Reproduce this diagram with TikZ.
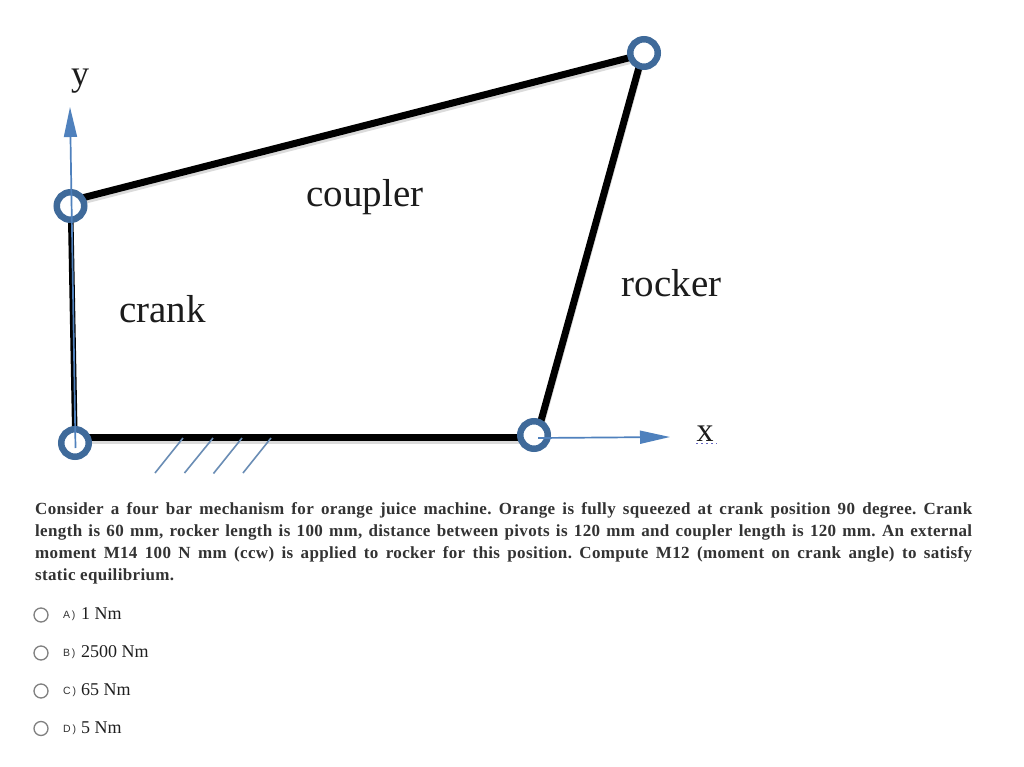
\documentclass[tikz,border=0pt]{standalone}
\usepackage{fontspec}
\setmainfont{Liberation Serif}
\newfontfamily\optlabel{Liberation Sans}
\newfontfamily\questionfont[LetterSpace=2]{Liberation Serif}
\usetikzlibrary{arrows.meta}
\definecolor{ringblue}{HTML}{3F6A9A}
\definecolor{axisblue}{HTML}{4F81BD}
\definecolor{hatchblue}{HTML}{6A8DB5}
\definecolor{labelgray}{HTML}{1C1C1C}
\tikzset{
  x=1pt,y=-1pt,
  pivot/.style={circle,draw=ringblue,line width=6.5pt,fill=white,minimum size=27.5pt,inner sep=0pt},
  linkbar/.style={line width=7pt,black,preaction={draw=black,opacity=.14,line width=7pt,transform canvas={yshift=-3pt}}},
  crankbar/.style={line width=5.5pt,black},
  axisline/.style={axisblue,line width=1.7pt,-{Triangle[length=30pt,width=13pt,fill=axisblue]}},
  hatchline/.style={hatchblue,line width=1.6pt},
  biglabel/.style={font=\fontsize{39}{40}\selectfont,text=labelgray,inner sep=0pt,anchor=base},
  radio/.style={circle,draw=black!50,line width=1.3pt,minimum size=14pt,inner sep=0pt,fill=white},
  optkey/.style={font=\optlabel\fontsize{10.5}{12}\selectfont,text=black!80,inner sep=0pt,anchor=base west},
  optval/.style={font=\fontsize{18}{20}\selectfont,text=black!88,inner sep=0pt,anchor=base west},
}
\begin{document}
\begin{tikzpicture}
\useasboundingbox (0,0) rectangle (1024,767);
\fill[white] (0,0) rectangle (1024,767);
% geometry
\coordinate (pa) at (75,443);
\coordinate (pb) at (70.5,206);
\coordinate (pc) at (644,53);
\coordinate (pd) at (534,435);
\coordinate (groundl) at (80,437.5);
\coordinate (groundr) at (528,437.5);
\coordinate (coupl) at (80,198.5);
\coordinate (coupr) at (636,56);
\coordinate (rockt) at (641,60);
\coordinate (rockb) at (539,428);
\coordinate (yorigin) at (75.5,448);
\coordinate (ytip) at (70,107);
\coordinate (xorigin) at (538,438);
\coordinate (xtip) at (670,437);
% links
\draw[crankbar] (pa) -- (pb);
\draw[linkbar] (coupl) -- (coupr);
\draw[linkbar] (rockt) -- (rockb);
\draw[linkbar] (groundl) -- (groundr);
% ground hatching
\coordinate (h1a) at (183,438); \coordinate (h1b) at (155,473);
\coordinate (h2a) at (213,438); \coordinate (h2b) at (184.5,473);
\coordinate (h3a) at (242,438); \coordinate (h3b) at (213.5,473.5);
\coordinate (h4a) at (271,438); \coordinate (h4b) at (243,473);
\draw[hatchline] (h1a) -- (h1b);
\draw[hatchline] (h2a) -- (h2b);
\draw[hatchline] (h3a) -- (h3b);
\draw[hatchline] (h4a) -- (h4b);
% pivots
\node[pivot] (na) at (pa) {};
\node[pivot] (nb) at (pb) {};
\node[pivot] (nc) at (pc) {};
\node[pivot] (nd) at (pd) {};
% axes
\draw[axisline] (yorigin) -- (ytip);
\draw[axisline] (xorigin) -- (xtip);
% labels
\node[biglabel,font=\fontsize{36}{40}\selectfont] (ylabel) at (80,85.5) {y};
\node[biglabel,font=\fontsize{34}{40}\selectfont] (xlabel) at (705,441) {x};
\coordinate (squiga) at (696,443.5); \coordinate (squigb) at (717,443.5);
\draw[blue!60!black,line width=.7pt,dash pattern=on 2pt off 3pt,opacity=.6] (squiga) -- (squigb);
\node[biglabel] (coupler) at (365,207) {coupler};
\node[biglabel] (crank) at (162.5,322) {crank};
\node[biglabel] (rocker) at (671.5,296) {rocker};
% question
\node[anchor=north west,inner sep=0pt,text width=937pt,align=justify,text=black!80,
      font=\questionfont\bfseries\fontsize{17}{22}\selectfont] (question) at (35,502)
 {\frenchspacing Consider a four bar mechanism for orange juice machine. Orange is fully squeezed at crank position 90 degree. Crank\linebreak
  length is 60 mm, rocker length is 100 mm, distance between pivots is 120 mm and coupler length is 120 mm. An external\linebreak
  moment M14 100 N mm (ccw) is applied to rocker for this position. Compute M12 (moment on crank angle) to satisfy\linebreak
  static equilibrium.};
% options
\node[radio] (ra) at (41,615) {};
\node[radio] (rb) at (41,653) {};
\node[radio] (rc) at (41,691) {};
\node[radio] (rd) at (41,728.5) {};
\node[optkey] (ka) at (63,618.5) {A\,)};
\node[optkey] (kb) at (63,656.5) {B\,)};
\node[optkey] (kc) at (63,694.5) {C\,)};
\node[optkey] (kd) at (63,732.5) {D\,)};
\node[optval] (va) at (81,619) {1 Nm};
\node[optval] (vb) at (81,657) {2500 Nm};
\node[optval] (vc) at (81,695) {65 Nm};
\node[optval] (vd) at (81,733) {5 Nm};
\end{tikzpicture}
\end{document}
